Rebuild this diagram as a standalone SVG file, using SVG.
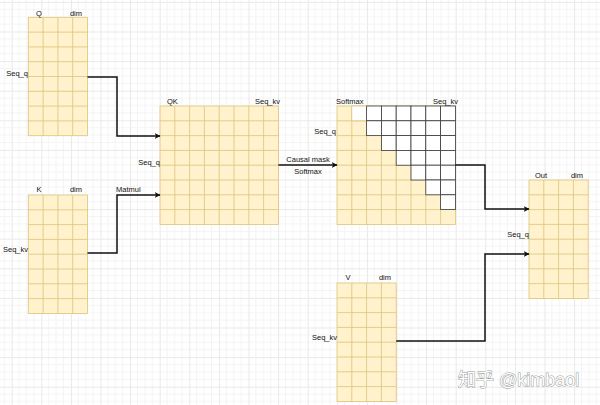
<svg xmlns="http://www.w3.org/2000/svg" width="600" height="405" viewBox="0 0 600 405">
<defs>
<pattern id="grid" patternUnits="userSpaceOnUse" x="11.7" y="1.9" width="29.6" height="29.6">
<path d="M7.4,0V29.6M14.8,0V29.6M22.2,0V29.6M0,7.4H29.6M0,14.8H29.6M0,22.2H29.6" stroke="#f4f4f4" stroke-width="1" fill="none"/>
<path d="M0.5,0V29.6M0,0.5H29.6" stroke="#e9e9e9" stroke-width="1" fill="none"/>
</pattern>
<marker id="arr" viewBox="0 0 10 10" refX="9" refY="5" markerWidth="6" markerHeight="6" markerUnits="userSpaceOnUse" orient="auto">
<path d="M0,0L10,5L0,10L2.5,5z" fill="#111"/>
</marker>
</defs>
<style>
.cellbg{fill:#fff2cc;stroke:#dcc47a;stroke-width:0.8}
.cl{stroke:#dcc47a;stroke-width:0.8;fill:none}
.wc{fill:#ffffff;stroke:#3a3a3a;stroke-width:0.8}
.wcl{fill:#ffffff;stroke:#dcc47a;stroke-width:0.8}
.t{font-family:"Liberation Sans",Arial,sans-serif;font-size:7.5px;fill:#111}
.m{text-anchor:middle}
.e{text-anchor:end}
.edge{fill:none;stroke:#111;stroke-width:1.5;marker-end:url(#arr)}
.wm{font-family:"Liberation Sans","Noto Sans CJK SC",sans-serif;font-size:18px;fill:#ffffff;stroke:#9a9a9a;stroke-width:1;paint-order:stroke}
</style>
<rect width="600" height="405" fill="#ffffff"/>
<rect width="600" height="405" fill="url(#grid)"/>

<g id="nodeQ">
<rect class="cellbg" x="28.3" y="17.3" width="59.2" height="118.4"/>
<path class="cl" d="M43.1,17.3V135.7M57.9,17.3V135.7M72.7,17.3V135.7M28.3,32.1H87.5M28.3,46.9H87.5M28.3,61.7H87.5M28.3,76.5H87.5M28.3,91.3H87.5M28.3,106.1H87.5M28.3,120.9H87.5"/>
<text class="t m" x="39" y="16">Q</text>
<text class="t m" x="76" y="16">dim</text>
<text class="t e" x="28" y="76">Seq_q</text>
</g>

<g id="nodeK">
<rect class="cellbg" x="28.3" y="195" width="59.2" height="118.4"/>
<path class="cl" d="M43.1,195V313.4M57.9,195V313.4M72.7,195V313.4M28.3,209.8H87.5M28.3,224.6H87.5M28.3,239.4H87.5M28.3,254.2H87.5M28.3,269H87.5M28.3,283.8H87.5M28.3,298.6H87.5"/>
<text class="t m" x="39" y="192">K</text>
<text class="t m" x="76" y="192">dim</text>
<text class="t e" x="28" y="252">Seq_kv</text>
</g>

<g id="nodeQK">
<rect class="cellbg" x="160" y="106" width="118.4" height="118.4"/>
<path class="cl" d="M174.8,106V224.4M189.6,106V224.4M204.4,106V224.4M219.2,106V224.4M234,106V224.4M248.8,106V224.4M263.6,106V224.4M160,120.8H278.4M160,135.6H278.4M160,150.4H278.4M160,165.2H278.4M160,180H278.4M160,194.8H278.4M160,209.6H278.4"/>
<text class="t" x="167" y="104">QK</text>
<text class="t e" x="280" y="104">Seq_kv</text>
<text class="t e" x="160" y="165">Seq_q</text>
</g>

<g id="nodeSoftmax">
<rect class="cellbg" x="337" y="106" width="118.4" height="118.4"/>
<path class="cl" d="M351.8,106V224.4M366.6,106V224.4M381.4,106V224.4M396.2,106V224.4M411,106V224.4M425.8,106V224.4M440.6,106V224.4M337,120.8H455.4M337,135.6H455.4M337,150.4H455.4M337,165.2H455.4M337,180H455.4M337,194.8H455.4M337,209.6H455.4"/>
<rect class="wcl" x="351.8" y="106" width="14.8" height="14.8"/>
<g class="wc">
<rect x="366.6" y="106" width="14.8" height="14.8"/><rect x="381.4" y="106" width="14.8" height="14.8"/><rect x="396.2" y="106" width="14.8" height="14.8"/><rect x="411" y="106" width="14.8" height="14.8"/><rect x="425.8" y="106" width="14.8" height="14.8"/><rect x="440.6" y="106" width="14.8" height="14.8"/>
<rect x="366.6" y="120.8" width="14.8" height="14.8"/><rect x="381.4" y="120.8" width="14.8" height="14.8"/><rect x="396.2" y="120.8" width="14.8" height="14.8"/><rect x="411" y="120.8" width="14.8" height="14.8"/><rect x="425.8" y="120.8" width="14.8" height="14.8"/><rect x="440.6" y="120.8" width="14.8" height="14.8"/>
<rect x="381.4" y="135.6" width="14.8" height="14.8"/><rect x="396.2" y="135.6" width="14.8" height="14.8"/><rect x="411" y="135.6" width="14.8" height="14.8"/><rect x="425.8" y="135.6" width="14.8" height="14.8"/><rect x="440.6" y="135.6" width="14.8" height="14.8"/>
<rect x="396.2" y="150.4" width="14.8" height="14.8"/><rect x="411" y="150.4" width="14.8" height="14.8"/><rect x="425.8" y="150.4" width="14.8" height="14.8"/><rect x="440.6" y="150.4" width="14.8" height="14.8"/>
<rect x="411" y="165.2" width="14.8" height="14.8"/><rect x="425.8" y="165.2" width="14.8" height="14.8"/><rect x="440.6" y="165.2" width="14.8" height="14.8"/>
<rect x="425.8" y="180" width="14.8" height="14.8"/><rect x="440.6" y="180" width="14.8" height="14.8"/>
<rect x="440.6" y="194.8" width="14.8" height="14.8"/>
</g>
<text class="t" x="336" y="104">Softmax</text>
<text class="t e" x="458" y="104">Seq_kv</text>
<text class="t e" x="336" y="134">Seq_q</text>
</g>

<g id="nodeV">
<rect class="cellbg" x="337" y="283" width="59.2" height="118.4"/>
<path class="cl" d="M351.8,283V401.4M366.6,283V401.4M381.4,283V401.4M337,297.8H396.2M337,312.6H396.2M337,327.4H396.2M337,342.2H396.2M337,357H396.2M337,371.8H396.2M337,386.6H396.2"/>
<text class="t m" x="348" y="280">V</text>
<text class="t m" x="385" y="280">dim</text>
<text class="t e" x="337" y="340">Seq_kv</text>
</g>

<g id="nodeOut">
<rect class="cellbg" x="529" y="180" width="59.2" height="118.4"/>
<path class="cl" d="M543.8,180V298.4M558.6,180V298.4M573.4,180V298.4M529,194.8H588.2M529,209.6H588.2M529,224.4H588.2M529,239.2H588.2M529,254H588.2M529,268.8H588.2M529,283.6H588.2"/>
<text class="t m" x="541" y="178">Out</text>
<text class="t m" x="577" y="178">dim</text>
<text class="t e" x="529" y="237">Seq_q</text>
</g>

<g id="connectors">
<path class="edge" d="M87.5,77H117V136H160"/>
<path class="edge" d="M87.5,253H117V195H160"/>
<text class="t" x="116" y="192">Matmul</text>
<path class="edge" d="M278.4,165H337"/>
<text class="t m" x="308" y="161.5">Causal mask</text>
<text class="t m" x="308" y="174">Softmax</text>
<path class="edge" d="M455.4,165H485V209H529"/>
<path class="edge" d="M396.2,341H485V254H529"/>
</g>

<text class="wm" x="458" y="386">知乎 @kimbaol</text>
</svg>
